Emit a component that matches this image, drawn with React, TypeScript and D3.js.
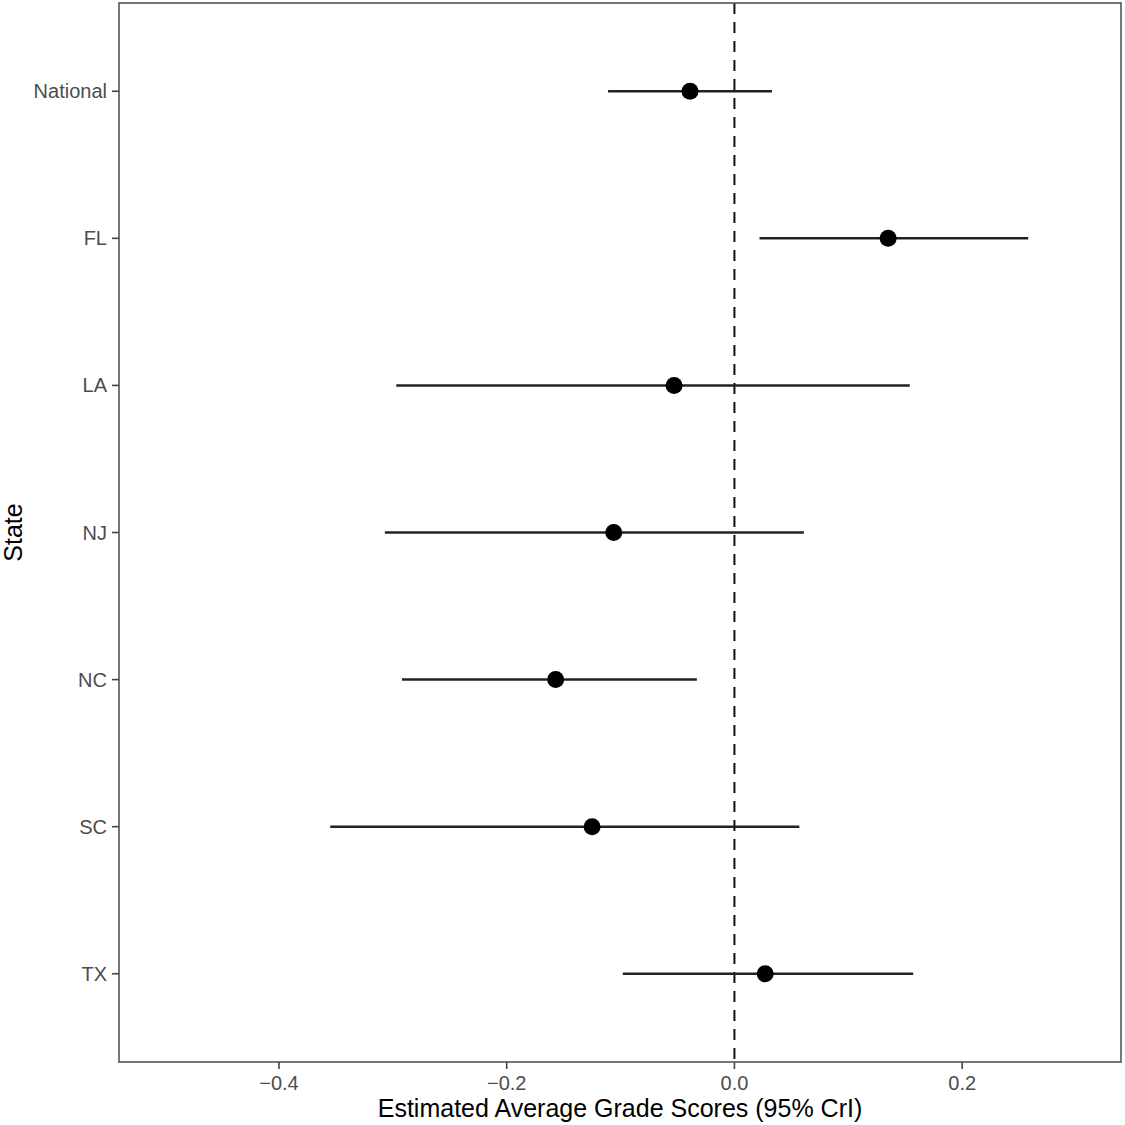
import React from 'react';
import * as d3 from 'd3';

// estimates with 95% credible intervals, one row per state
const states = ['National', 'FL', 'LA', 'NJ', 'NC', 'SC', 'TX'];
const estimates = [-0.039, 0.135, -0.053, -0.106, -0.157, -0.125, 0.027];
const lower = [-0.111, 0.022, -0.297, -0.307, -0.292, -0.355, -0.098];
const upper = [0.033, 0.258, 0.154, 0.061, -0.033, 0.057, 0.157];
const xTicks = [-0.4, -0.2, 0.0, 0.2];

const W = 1125;
const H = 1125;
const margin = { top: 3, right: 4, bottom: 63, left: 119 };

const App: React.FC = () => {
  const x = d3.scaleLinear()
    .domain([-0.5405, 0.3395])
    .range([margin.left, W - margin.right]);

  // discrete axis with ggplot-style 0.6 expansion on each end
  const y = d3.scalePoint<string>()
    .domain(states)
    .range([margin.top, H - margin.bottom])
    .padding(0.6);

  const rows = states.map((s, i) => ({ s, est: estimates[i], lo: lower[i], hi: upper[i] }));
  const fmt = (v: number) => (v < 0 ? '\u2212' : '') + Math.abs(v).toFixed(1);
  const font = 'Liberation Sans, Arial, sans-serif';
  const bottom = H - margin.bottom;

  return (
    <svg width={W} height={H} style={{ position: 'absolute', left: 0, top: 0, background: '#fff' }} fontFamily={font}>
      {/* reference line at zero */}
      <line x1={x(0)} x2={x(0)} y1={margin.top} y2={bottom}
        stroke="#111" strokeWidth={2} strokeDasharray="11,8" />

      {rows.map(r => (
        <g key={r.s}>
          <line x1={x(r.lo)} x2={x(r.hi)} y1={y(r.s)} y2={y(r.s)} stroke="#222" strokeWidth={2.5} />
          <circle cx={x(r.est)} cy={y(r.s)} r={8.5} fill="#000" />
        </g>
      ))}

      {/* panel border */}
      <rect x={margin.left} y={margin.top} width={W - margin.left - margin.right} height={bottom - margin.top}
        fill="none" stroke="#555" strokeWidth={1.6} />

      {/* y axis */}
      {states.map(s => (
        <g key={s} transform={`translate(${margin.left},${y(s)})`}>
          <line x1={-7} x2={0} stroke="#444" strokeWidth={1.6} />
          <text x={-12} dy="0.35em" textAnchor="end" fontSize={20} fill="#4d4d4d">{s}</text>
        </g>
      ))}

      {/* x axis */}
      {xTicks.map(t => (
        <g key={t} transform={`translate(${x(t)},${bottom})`}>
          <line y1={0} y2={7} stroke="#444" strokeWidth={1.6} />
          <text y={28} textAnchor="middle" fontSize={20} fill="#4d4d4d">{fmt(t)}</text>
        </g>
      ))}

      <text x={620} y={1117} textAnchor="middle" fontSize={25} fill="#000">
        Estimated Average Grade Scores (95% CrI)
      </text>
      <text transform={`translate(22,${(margin.top + bottom) / 2}) rotate(-90)`} textAnchor="middle"
        fontSize={25} fill="#000">State</text>
    </svg>
  );
};

export default App;
